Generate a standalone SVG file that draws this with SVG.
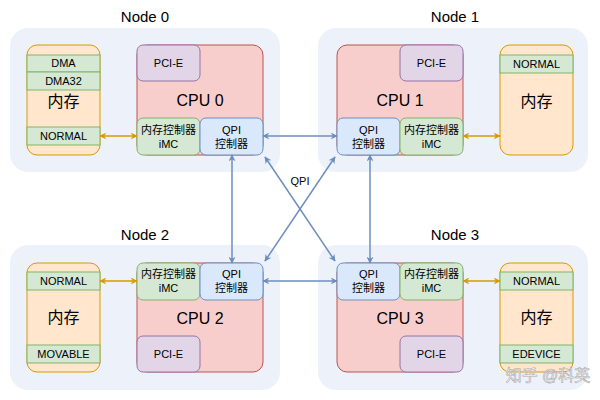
<svg xmlns="http://www.w3.org/2000/svg" width="600" height="400" viewBox="0 0 600 400">
<style>
text{font-family:"Liberation Sans","Noto Sans CJK SC",sans-serif;text-anchor:middle;fill:#000}
.bg{fill:#edf2fa}
.mem{fill:#ffe6cc;stroke:#d79b00;stroke-width:1}
.g{fill:#d5e8d4;stroke:#82b366;stroke-width:1}
.cpu{fill:#f8cecc;stroke:#b85450;stroke-width:1}
.pci{fill:#e1d5e7;stroke:#9673a6;stroke-width:1}
.qpi{fill:#dae8fc;stroke:#6c8ebf;stroke-width:1}
.s{font-size:11px}.t{font-size:15px}.c{font-size:16px}
.b{stroke:#6c8ebf;stroke-width:1.5;fill:none;marker-start:url(#ab);marker-end:url(#ab)}
.o{stroke:#d79b00;stroke-width:1.5;fill:none;marker-start:url(#ao);marker-end:url(#ao)}
</style>
<defs>
<marker id="ab" viewBox="0 0 10 10" refX="9" refY="5" markerWidth="7" markerHeight="7" orient="auto-start-reverse" markerUnits="userSpaceOnUse"><path d="M0,0L10,5L0,10L3,5Z" fill="#6c8ebf"/></marker>
<marker id="ao" viewBox="0 0 10 10" refX="9" refY="5" markerWidth="7" markerHeight="7" orient="auto-start-reverse" markerUnits="userSpaceOnUse"><path d="M0,0L10,5L0,10L3,5Z" fill="#d79b00"/></marker>
</defs>
<g id="node0">
<rect class="bg" x="10" y="28" width="270" height="144" rx="18"/>
<text class="t" x="145" y="22">Node 0</text>
<rect class="mem" x="27" y="45" width="73" height="110" rx="10"/>
<rect class="g" x="27" y="55" width="73" height="17"/><text class="s" x="63.5" y="67">DMA</text>
<rect class="g" x="27" y="72" width="73" height="18"/><text class="s" x="63.5" y="85">DMA32</text>
<text class="c" x="63.5" y="107">内存</text>
<rect class="g" x="27" y="127" width="73" height="18"/><text class="s" x="63.5" y="140">NORMAL</text>
<rect class="cpu" x="137" y="45" width="126" height="110" rx="10"/>
<rect class="pci" x="137" y="45" width="63" height="36" rx="6"/><text class="s" x="168.5" y="67">PCI-E</text>
<text class="c" x="200" y="106">CPU 0</text>
<rect class="g" x="137" y="118" width="63" height="37" rx="6"/><text class="s" x="168.5" y="134">内存控制器</text><text class="s" x="168.5" y="148">iMC</text>
<rect class="qpi" x="200" y="118" width="63" height="37" rx="6"/><text class="s" x="231.5" y="134">QPI</text><text class="s" x="231.5" y="148">控制器</text>
</g>
<g id="node1">
<rect class="bg" x="318" y="28" width="270" height="144" rx="18"/>
<text class="t" x="455" y="22">Node 1</text>
<rect class="cpu" x="337" y="45" width="126" height="110" rx="10"/>
<rect class="pci" x="400" y="45" width="63" height="36" rx="6"/><text class="s" x="431.5" y="67">PCI-E</text>
<text class="c" x="400" y="106">CPU 1</text>
<rect class="qpi" x="337" y="118" width="63" height="37" rx="6"/><text class="s" x="368.5" y="134">QPI</text><text class="s" x="368.5" y="148">控制器</text>
<rect class="g" x="400" y="118" width="63" height="37" rx="6"/><text class="s" x="431.5" y="134">内存控制器</text><text class="s" x="431.5" y="148">iMC</text>
<rect class="mem" x="500" y="45" width="73" height="110" rx="10"/>
<rect class="g" x="500" y="55" width="73" height="18"/><text class="s" x="536.5" y="68">NORMAL</text>
<text class="c" x="536.5" y="107">内存</text>
</g>
<g id="node2">
<rect class="bg" x="10" y="245" width="270" height="145" rx="18"/>
<text class="t" x="145" y="240">Node 2</text>
<rect class="mem" x="27" y="263" width="73" height="109" rx="10"/>
<rect class="g" x="27" y="272" width="73" height="18"/><text class="s" x="63.5" y="285">NORMAL</text>
<text class="c" x="63.5" y="323">内存</text>
<rect class="g" x="27" y="345" width="73" height="18"/><text class="s" x="63.5" y="358">MOVABLE</text>
<rect class="cpu" x="137" y="263" width="126" height="109" rx="10"/>
<rect class="g" x="137" y="263" width="63" height="37" rx="6"/><text class="s" x="168.5" y="278">内存控制器</text><text class="s" x="168.5" y="292">iMC</text>
<rect class="qpi" x="200" y="263" width="63" height="37" rx="6"/><text class="s" x="231.5" y="278">QPI</text><text class="s" x="231.5" y="292">控制器</text>
<text class="c" x="200" y="324">CPU 2</text>
<rect class="pci" x="137" y="336" width="63" height="36" rx="6"/><text class="s" x="168.5" y="358">PCI-E</text>
</g>
<g id="node3">
<rect class="bg" x="318" y="245" width="270" height="145" rx="18"/>
<text class="t" x="455" y="240">Node 3</text>
<rect class="cpu" x="337" y="263" width="126" height="109" rx="10"/>
<rect class="qpi" x="337" y="263" width="63" height="37" rx="6"/><text class="s" x="368.5" y="278">QPI</text><text class="s" x="368.5" y="292">控制器</text>
<rect class="g" x="400" y="263" width="63" height="37" rx="6"/><text class="s" x="431.5" y="278">内存控制器</text><text class="s" x="431.5" y="292">iMC</text>
<text class="c" x="400" y="324">CPU 3</text>
<rect class="pci" x="400" y="336" width="63" height="36" rx="6"/><text class="s" x="431.5" y="358">PCI-E</text>
<rect class="mem" x="500" y="263" width="73" height="109" rx="10"/>
<rect class="g" x="500" y="272" width="73" height="18"/><text class="s" x="536.5" y="285">NORMAL</text>
<text class="c" x="536.5" y="323">内存</text>
<rect class="g" x="500" y="345" width="73" height="18"/><text class="s" x="536.5" y="358">EDEVICE</text>
</g>
<g id="connectors">
<line class="b" x1="263" y1="136" x2="337" y2="136"/>
<line class="b" x1="263" y1="281" x2="337" y2="281"/>
<line class="b" x1="232" y1="155" x2="232" y2="263"/>
<line class="b" x1="370" y1="155" x2="370" y2="263"/>
<line class="b" x1="265" y1="157" x2="335" y2="261"/>
<line class="b" x1="335" y1="157" x2="265" y2="261"/>
<line class="o" x1="100" y1="136" x2="137" y2="136"/>
<line class="o" x1="463" y1="136" x2="500" y2="136"/>
<line class="o" x1="100" y1="281" x2="137" y2="281"/>
<line class="o" x1="463" y1="281" x2="500" y2="281"/>
<text class="s" x="300" y="185">QPI</text>
</g>
<text x="548" y="381" style="font-size:16px;fill:#ffffff;stroke:#aaaaaa;stroke-width:0.6">知乎 @科英</text>
</svg>
